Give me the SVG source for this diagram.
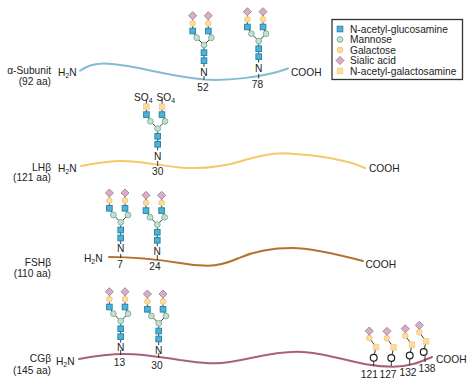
<svg xmlns="http://www.w3.org/2000/svg" xmlns:xlink="http://www.w3.org/1999/xlink" width="474" height="388" viewBox="0 0 474 388">
<style>
text{font-family:"Liberation Sans",Arial,sans-serif;font-size:10.2px;fill:#222}
.sub{font-size:7px}
.m{text-anchor:middle}
.e{text-anchor:end}
.chain{fill:none;stroke-width:2;stroke-linecap:round}
.link{fill:none;stroke:#222;stroke-width:.9}
.ring{fill:#fff;stroke:#222;stroke-width:1.2}
.glcnac{fill:#4fb3d4;stroke:#2a86ad;stroke-width:1}
.man{fill:#c2e0cf;stroke:#86b39f;stroke-width:1}
.gal{fill:#fbdf9c;stroke:#f2c67e;stroke-width:1}
.sia{fill:#d6afc7;stroke:#ad869f;stroke-width:1}
.galnac{fill:#fcdb9c;stroke:#f5cc88;stroke-width:.8}
</style>
<defs>
<rect id="sqB" class="glcnac" x="-2.800" y="-2.800" width="5.600" height="5.600"/>
<circle id="cM" class="man" r="2.900"/>
<circle id="cG" class="gal" r="2.800"/>
<path id="dS" class="sia" d="M0-4 4 0 0 4-4 0Z"/>
<rect id="sqY" class="galnac" x="-2.800" y="-2.800" width="5.600" height="5.600"/>
<!-- biantennary core: origin at the lower stem sugar -->
<g id="core">
<path class="link" d="M0 6V-15.700M0-15.700-7.300-23-11.300-29.700V-45M0-15.700 7.300-23 4.300-29.700V-45"/>
<use href="#sqB"/><use href="#sqB" y="-8"/>
<use href="#cM" y="-15.700"/><use href="#cM" x="-7.300" y="-23"/><use href="#cM" x="7.300" y="-23"/>
<use href="#sqB" x="-11.300" y="-29.700"/><use href="#sqB" x="4.300" y="-29.700"/>
</g>
<g id="sialyl">
<use href="#core"/>
<use href="#cG" x="-11.300" y="-37.400"/><use href="#cG" x="4.300" y="-37.400"/>
<use href="#dS" x="-11.300" y="-45"/><use href="#dS" x="4.300" y="-45"/>
</g>
<!-- O-linked chain: origin at the serine ring -->
<g id="olink">
<path class="link" d="M0 0 2.300-10.700-4.400-19.700V-26.700"/>
<circle class="ring" r="3.400"/>
<use href="#sqY" x="2.300" y="-10.700"/>
<use href="#cG" x="-4.400" y="-19.700"/>
<use href="#dS" x="-4.400" y="-26.700"/>
</g>
</defs>

<g id="connectors">
<path class="chain" stroke="#85bcd3" d="M80 70.700C88 65 96 63.500 104 63.500C130 63.500 160 75 204 79.500C225 81 262 78 288 68.500"/>
<path class="chain" stroke="#f5c968" d="M81 166C97 163 110 161 122 161C140 161 155 165 180 167.500C200 169 222 167 240 161.500C255 157 268 153.300 285 153.300C315 155 345 159 365 168"/>
<path class="chain" stroke="#b5722f" d="M109 257C130 257 155 259 180 263C190 265 200 265.700 208 265.700C222 265.700 232 261 240 257.700C255 251 270 248 292 248C310 248 340 255 363 261"/>
<path class="chain" stroke="#a8607e" d="M79 359C95 356 110 354 125 354C145 354 165 358 180 360C190 361 200 363.300 215 363.300C240 363.300 265 351.700 297 351.700C330 351.700 355 366.700 393 366.700C410 366.700 420 362 432 357"/>
<path class="link" d="M204 76V80M258.700 74V78.500M157.700 161V166M120.700 254V258M157.300 255V260M120.700 350V355M158.700 353V358"/>
</g>

<g id="legend">
<rect x="332" y="19.500" width="130.500" height="60" fill="#fff" stroke="#333" stroke-width="1.300"/>
<use href="#sqB" x="340" y="29"/><text x="350" y="32.500">N-acetyl-glucosamine</text>
<use href="#cM" x="340" y="39.500"/><text x="350" y="43">Mannose</text>
<use href="#cG" x="340" y="50"/><text x="350" y="53.500">Galactose</text>
<use href="#dS" x="340" y="60.500"/><text x="350" y="64">Sialic acid</text>
<use href="#sqY" x="340" y="71"/><text x="350" y="74.500">N-acetyl-galactosamine</text>
</g>

<g id="alpha-subunit">
<text class="e" x="51" y="74">α-Subunit</text><text class="e" x="51" y="85">(92 aa)</text>
<text x="58" y="75.500">H<tspan class="sub" dy="2">2</tspan><tspan dy="-2">N</tspan></text>
<text x="291" y="75.500">COOH</text>
</g>
<g id="alpha-52"><use href="#sialyl" x="204" y="60.700"/><text class="m" x="204" y="75.500">N</text><text class="m" x="203" y="90.500">52</text></g>
<g id="alpha-78"><use href="#sialyl" x="258.700" y="56.700"/><text class="m" x="258.700" y="72">N</text><text class="m" x="257.500" y="88">78</text></g>

<g id="lh-beta">
<text class="e" x="51" y="170.500">LHβ</text><text class="e" x="51" y="181">(121 aa)</text>
<text x="58" y="172">H<tspan class="sub" dy="2">2</tspan><tspan dy="-2">N</tspan></text>
<text x="369" y="172">COOH</text>
</g>
<g id="lh-30">
<use href="#core" x="157.700" y="144.300"/>
<use href="#sqY" x="146.400" y="106.700"/><use href="#sqY" x="162" y="106.700"/>
<text x="134" y="101">SO<tspan class="sub" dy="2">4</tspan></text><text x="156.500" y="101">SO<tspan class="sub" dy="2">4</tspan></text>
<text class="m" x="157.700" y="160">N</text><text class="m" x="157.700" y="175">30</text>
</g>

<g id="fsh-beta">
<text class="e" x="51" y="266">FSHβ</text><text class="e" x="51" y="277">(110 aa)</text>
<text x="84" y="261.500">H<tspan class="sub" dy="2">2</tspan><tspan dy="-2">N</tspan></text>
<text x="365.500" y="268">COOH</text>
</g>
<g id="fsh-7"><use href="#sialyl" x="120.700" y="238"/><text class="m" x="120.700" y="252">N</text><text class="m" x="120" y="268">7</text></g>
<g id="fsh-24"><use href="#sialyl" x="157.300" y="240.300"/><text class="m" x="157.300" y="255">N</text><text class="m" x="155" y="270">24</text></g>

<g id="cg-beta">
<text class="e" x="51" y="362">CGβ</text><text class="e" x="51" y="374">(145 aa)</text>
<text x="56" y="364.500">H<tspan class="sub" dy="2">2</tspan><tspan dy="-2">N</tspan></text>
<text x="436" y="363">COOH</text>
</g>
<g id="cg-13"><use href="#sialyl" x="120.700" y="336.700"/><text class="m" x="120.700" y="351">N</text><text class="m" x="119.500" y="366">13</text></g>
<g id="cg-30"><use href="#sialyl" x="158.700" y="339"/><text class="m" x="158.700" y="354">N</text><text class="m" x="157" y="369">30</text></g>
<g id="cg-121"><path class="link" d="M373.700 361V366"/><use href="#olink" x="373.700" y="357.700"/><text class="m" x="369.300" y="377.500">121</text></g>
<g id="cg-127"><path class="link" d="M391.300 361V366"/><use href="#olink" x="391.300" y="358"/><text class="m" x="388" y="377.500">127</text></g>
<g id="cg-132"><path class="link" d="M409.700 359V365"/><use href="#olink" x="409.700" y="355.500"/><text class="m" x="408" y="375.500">132</text></g>
<g id="cg-138"><path class="link" d="M425 356V362"/><use href="#olink" x="423.700" y="352"/><text class="m" x="427" y="372">138</text></g>
</svg>
